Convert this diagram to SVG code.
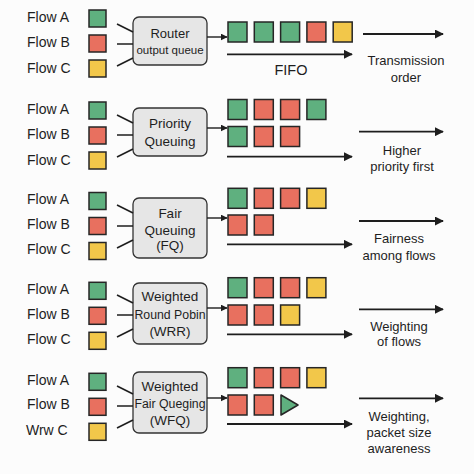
<svg xmlns="http://www.w3.org/2000/svg" width="474" height="474" viewBox="0 0 474 474">
<defs>
<style>
text{font-family:"Liberation Sans",Arial,sans-serif;fill:#1e1e1e}
.fl{font-size:14px}
.bx{font-size:13px;text-anchor:middle}
.rt{font-size:13px;text-anchor:middle}
.box{fill:#e6e6e6;stroke:#333;stroke-width:1.3}
.g{fill:#5fb07f;stroke:#262626;stroke-width:1.5}
.r{fill:#e8705f;stroke:#262626;stroke-width:1.5}
.y{fill:#f2c74a;stroke:#262626;stroke-width:1.5}
.ln{stroke:#1e1e1e;stroke-width:1.6;fill:none}
.ar{stroke:#1e1e1e;stroke-width:1.8;fill:none;marker-end:url(#ah)}
.sa{stroke:#1e1e1e;stroke-width:1.4;fill:none;marker-end:url(#sh)}
</style>
<marker id="ah" viewBox="0 0 10 10" refX="9" refY="5" markerWidth="9" markerHeight="9" markerUnits="userSpaceOnUse" orient="auto"><path d="M0,0 L10,5 L0,10 z" fill="#1e1e1e"/></marker>
<marker id="sh" viewBox="0 0 10 10" refX="9" refY="5" markerWidth="7" markerHeight="7" markerUnits="userSpaceOnUse" orient="auto"><path d="M0,0 L10,5 L0,10 z" fill="#1e1e1e"/></marker>
</defs>
<rect width="474" height="474" fill="#fcfcfc"/>

<!-- Section 1: FIFO -->
<g id="s1-flows">
<text class="fl" x="27" y="22">Flow A</text>
<text class="fl" x="27" y="47">Flow B</text>
<text class="fl" x="27" y="72.5">Flow C</text>
<rect class="g" x="89" y="10" width="17" height="17"/>
<rect class="r" x="89" y="35" width="17" height="17"/>
<rect class="y" x="89" y="60" width="17" height="17"/>
</g>
<g id="s1-box">
<rect class="box" x="133" y="17" width="74" height="48" rx="6"/>
<text class="bx" x="170" y="37.5">Router</text>
<text class="bx" x="170" y="54" style="font-size:11.5px">output queue</text>
</g>
<g id="s1-queue">
<rect class="g" x="228" y="22" width="19" height="20"/>
<rect class="g" x="254.3" y="22" width="19" height="20"/>
<rect class="g" x="280.6" y="22" width="19" height="20"/>
<rect class="r" x="306.9" y="22" width="19" height="20"/>
<rect class="y" x="333.2" y="22" width="19" height="20"/>
<text x="291" y="75" style="font-size:14.5px;text-anchor:middle">FIFO</text>
</g>
<g id="s1-label">
<text class="rt" x="406" y="64.5">Transmission</text>
<text class="rt" x="406" y="81.5">order</text>
</g>

<!-- Section 2: Priority -->
<g id="s2-flows">
<text class="fl" x="27" y="114">Flow A</text>
<text class="fl" x="27" y="139">Flow B</text>
<text class="fl" x="27" y="164.5">Flow C</text>
<rect class="g" x="89" y="102" width="17" height="17"/>
<rect class="r" x="89" y="127" width="17" height="17"/>
<rect class="y" x="89" y="152" width="17" height="17"/>
</g>
<g id="s2-box">
<rect class="box" x="133" y="108" width="74" height="48" rx="6"/>
<text class="bx" x="170" y="128" style="font-size:13.5px">Priority</text>
<text class="bx" x="170" y="145.5" style="font-size:13.5px">Queuing</text>
</g>
<g id="s2-queue">
<rect class="g" x="228" y="99.5" width="19" height="20"/>
<rect class="r" x="254.3" y="99.5" width="19" height="20"/>
<rect class="r" x="280.6" y="99.5" width="19" height="20"/>
<rect class="g" x="306.9" y="99.5" width="19" height="20"/>
<rect class="g" x="228" y="126.5" width="19" height="20"/>
<rect class="r" x="254.3" y="126.5" width="19" height="20"/>
<rect class="r" x="280.6" y="126.5" width="19" height="20"/>
</g>
<g id="s2-label">
<text class="rt" x="402" y="154.5">Higher</text>
<text class="rt" x="402" y="170.5">priority first</text>
</g>

<!-- Section 3: FQ -->
<g id="s3-flows">
<text class="fl" x="27" y="203.5">Flow A</text>
<text class="fl" x="27" y="228.5">Flow B</text>
<text class="fl" x="27" y="254">Flow C</text>
<rect class="g" x="89" y="192.5" width="17" height="17"/>
<rect class="r" x="89" y="217.5" width="17" height="17"/>
<rect class="y" x="89" y="242.5" width="17" height="17"/>
</g>
<g id="s3-box">
<rect class="box" x="133" y="198" width="74" height="60" rx="6"/>
<text class="bx" x="170" y="218" style="font-size:13.5px">Fair</text>
<text class="bx" x="170" y="234.7" style="font-size:13.5px">Queuing</text>
<text class="bx" x="170" y="250.4" style="font-size:13.5px">(FQ)</text>
</g>
<g id="s3-queue">
<rect class="g" x="228" y="188.3" width="19" height="20"/>
<rect class="r" x="254.3" y="188.3" width="19" height="20"/>
<rect class="r" x="280.6" y="188.3" width="19" height="20"/>
<rect class="y" x="306.9" y="188.3" width="19" height="20"/>
<rect class="r" x="228" y="215" width="19" height="20"/>
<rect class="r" x="254.3" y="215" width="19" height="20"/>
</g>
<g id="s3-label">
<text class="rt" x="399" y="243">Fairness</text>
<text class="rt" x="399" y="259.5">among flows</text>
</g>

<!-- Section 4: WRR -->
<g id="s4-flows">
<text class="fl" x="27" y="293.5">Flow A</text>
<text class="fl" x="27" y="318.5">Flow B</text>
<text class="fl" x="27" y="344">Flow C</text>
<rect class="g" x="89" y="282.3" width="17" height="17"/>
<rect class="r" x="89" y="307.3" width="17" height="17"/>
<rect class="y" x="89" y="332.3" width="17" height="17"/>
</g>
<g id="s4-box">
<rect class="box" x="133" y="283" width="74" height="61" rx="6"/>
<text class="bx" x="170" y="301.4" style="font-size:13.5px">Weighted</text>
<text class="bx" x="170" y="318.5" style="font-size:12.3px">Round Pobin</text>
<text class="bx" x="170" y="335.7" style="font-size:13.5px">(WRR)</text>
</g>
<g id="s4-queue">
<rect class="g" x="228" y="277.7" width="19" height="20"/>
<rect class="r" x="254.3" y="277.7" width="19" height="20"/>
<rect class="r" x="280.6" y="277.7" width="19" height="20"/>
<rect class="y" x="306.9" y="277.7" width="19" height="20"/>
<rect class="r" x="228" y="305" width="19" height="20"/>
<rect class="r" x="254.3" y="305" width="19" height="20"/>
<rect class="y" x="280.6" y="305" width="19" height="20"/>
</g>
<g id="s4-label">
<text class="rt" x="399" y="330.5">Weighting</text>
<text class="rt" x="399" y="346">of flows</text>
</g>

<!-- Section 5: WFQ -->
<g id="s5-flows">
<text class="fl" x="27" y="384.5">Flow A</text>
<text class="fl" x="27" y="409.3">Flow B</text>
<text class="fl" x="26" y="435">Wrw C</text>
<rect class="g" x="89" y="373.3" width="17" height="17"/>
<rect class="r" x="89" y="398.3" width="17" height="17"/>
<rect class="y" x="89" y="423.3" width="17" height="17"/>
</g>
<g id="s5-box">
<rect class="box" x="133" y="372" width="74" height="61" rx="6"/>
<text class="bx" x="170" y="390.7" style="font-size:13.5px">Weighted</text>
<text class="bx" x="170" y="408" style="font-size:12.3px">Fair Queging</text>
<text class="bx" x="170" y="424.7" style="font-size:13.5px">(WFQ)</text>
</g>
<g id="s5-queue">
<rect class="g" x="228" y="367.7" width="19" height="20"/>
<rect class="r" x="254.3" y="367.7" width="19" height="20"/>
<rect class="r" x="280.6" y="367.7" width="19" height="20"/>
<rect class="y" x="306.9" y="367.7" width="19" height="20"/>
<rect class="r" x="228" y="395" width="19" height="20"/>
<rect class="r" x="254.3" y="395" width="19" height="20"/>
<path class="g" d="M281,395 L298,405 L281,415 z" stroke-linejoin="round"/>
</g>
<g id="s5-label">
<text class="rt" x="399" y="420.5">Weighting,</text>
<text class="rt" x="399" y="437">packet size</text>
<text class="rt" x="399" y="453">awareness</text>
</g>

<!-- Connectors -->
<g id="connectors">
<path class="ln" d="M117,24 L133,32 M117,44 L133,44 M117,66 L133,58"/>
<path class="ln" d="M117,115 L133,123 M117,135 L133,135 M117,157 L133,149"/>
<path class="ln" d="M117,205 L133,213 M117,226 L133,226 M117,248 L133,240"/>
<path class="ln" d="M117,295 L133,303 M117,315 L133,315 M117,337 L133,329"/>
<path class="ln" d="M117,386 L133,394 M117,406 L133,406 M117,428 L133,420"/>
<path class="sa" d="M207,37 L227,37"/>
<path class="sa" d="M207,128 L227,128"/>
<path class="sa" d="M207,218 L227,218"/>
<path class="sa" d="M207,308 L227,308"/>
<path class="sa" d="M207,398 L227,398"/>
<path class="ar" d="M227,54.3 L352,54.3"/>
<path class="ar" d="M227,156.7 L352,156.7"/>
<path class="ar" d="M227,244.3 L352,244.3"/>
<path class="ar" d="M227,334.3 L352,334.3"/>
<path class="ar" d="M227,424 L352,424"/>
<path class="ar" d="M363,34 L443,34"/>
<path class="ar" d="M359,131.7 L443,131.7"/>
<path class="ar" d="M359,221 L443,221"/>
<path class="ar" d="M359,309.3 L443,309.3"/>
<path class="ar" d="M359,398.3 L443,398.3"/>
</g>
</svg>
